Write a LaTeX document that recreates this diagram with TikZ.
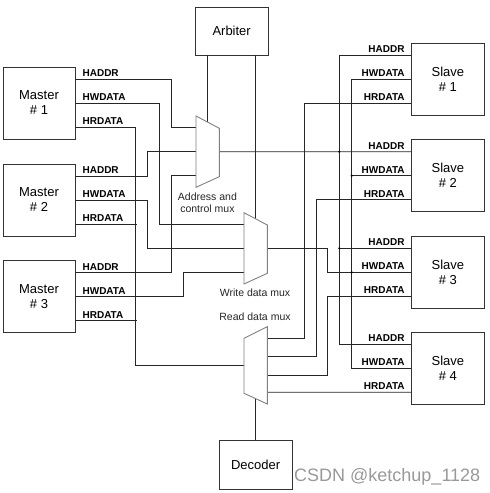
\documentclass[tikz,border=0pt]{standalone}
\usepackage{fontspec}
\setmainfont{Liberation Sans}
\usetikzlibrary{calc}
\begin{document}
\begin{tikzpicture}[x=1bp,y=-1bp,
  box/.style={draw=black!80, line width=0.8bp, minimum width=72bp, minimum height=72bp, align=center, inner sep=0pt, font=\fontsize{13bp}{15bp}\selectfont},
  wire/.style={draw=black!85, line width=0.8bp},
  mux/.style={draw=black!50, line width=0.9bp, fill=white},
  sig/.style={font=\fontsize{10bp}{12bp}\selectfont\bfseries, inner sep=0pt},
  mlab/.style={font=\fontsize{10.5bp}{11.6bp}\selectfont, align=center, inner sep=0pt, text=black!85},
  jdot/.style={circle, fill=black, inner sep=0pt, minimum size=2.4bp}]
\useasboundingbox (0,0) rectangle (490,493);

% boxes
\node[box] (m1) at (39,103) {Master\\\# 1};
\node[box] (m2) at (39,200) {Master\\\# 2};
\node[box] (m3) at (39,296.7) {Master\\\# 3};
\node[box, minimum width=72.3bp] (s1) at (447.85,79.3) {Slave\\\# 1};
\node[box, minimum width=72.3bp] (s2) at (447.85,175.7) {Slave\\\# 2};
\node[box, minimum width=72.3bp] (s3) at (447.85,272.3) {Slave\\\# 3};
\node[box, minimum width=72.3bp] (s4) at (447.85,368.3) {Slave\\\# 4};
\node[box, minimum width=73.3bp, minimum height=47.7bp] (arb) at (231.65,31.2) {Arbiter};
\node[box, minimum width=73.3bp, minimum height=48.3bp] (dec) at (255.65,464.8) {Decoder};

% signal pins on masters and slaves
\coordinate (m1a) at ([yshift=24bp]m1.east);
\coordinate (m1w) at (m1.east);
\coordinate (m1r) at ([yshift=-24bp]m1.east);
\coordinate (m2a) at ([yshift=24bp]m2.east);
\coordinate (m2w) at (m2.east);
\coordinate (m2r) at ([yshift=-24bp]m2.east);
\coordinate (m3a) at ([yshift=24bp]m3.east);
\coordinate (m3w) at (m3.east);
\coordinate (m3r) at ([yshift=-24bp]m3.east);
\coordinate (s1a) at ([yshift=24bp]s1.west);
\coordinate (s1w) at (s1.west);
\coordinate (s1r) at ([yshift=-24bp]s1.west);
\coordinate (s2a) at ([yshift=24bp]s2.west);
\coordinate (s2w) at (s2.west);
\coordinate (s2r) at ([yshift=-24bp]s2.west);
\coordinate (s3a) at ([yshift=24bp]s3.west);
\coordinate (s3w) at (s3.west);
\coordinate (s3r) at ([yshift=-24bp]s3.west);
\coordinate (s4a) at ([yshift=24bp]s4.west);
\coordinate (s4w) at (s4.west);
\coordinate (s4r) at ([yshift=-24bp]s4.west);

% signal labels
\foreach \b in {m1,m2,m3}{
  \node[sig, anchor=base west] at ([xshift=7bp,yshift=2.5bp]\b a) {HADDR};
  \node[sig, anchor=base west] at ([xshift=7bp,yshift=2.5bp]\b w) {HWDATA};
  \node[sig, anchor=base west] at ([xshift=7bp,yshift=2.5bp]\b r) {HRDATA};
}
\foreach \b in {s1,s2,s3,s4}{
  \node[sig, anchor=base east] at ([xshift=-6.5bp,yshift=2.5bp]\b a) {HADDR};
  \node[sig, anchor=base east] at ([xshift=-6.5bp,yshift=2.5bp]\b w) {HWDATA};
  \node[sig, anchor=base east] at ([xshift=-6.5bp,yshift=2.5bp]\b r) {HRDATA};
}

% mux geometry
\coordinate (A1) at (196,116);   \coordinate (A2) at (219.3,128.3);
\coordinate (A3) at (219.3,176.7); \coordinate (A4) at (196,187.3);
\coordinate (W1) at (244,212.7); \coordinate (W2) at (267.3,225);
\coordinate (W3) at (267.3,273.3); \coordinate (W4) at (244,284);
\coordinate (R1) at (244,338.3); \coordinate (R2) at (267.3,326.7);
\coordinate (R3) at (267.3,404); \coordinate (R4) at (244,393.3);
\coordinate (ai1) at (196,127.5);
\coordinate (ai2) at (196,151.7);
\coordinate (ai3) at (196,175.7);
\coordinate (ao) at (219.3,151.7);
\coordinate (wi1) at (244,224);
\coordinate (wi2) at (244,248.3);
\coordinate (wi3) at (244,272.7);
\coordinate (wo) at (267.3,248.3);
\coordinate (ro) at (244,365);
\coordinate (ri1) at (267.3,338.3);
\coordinate (ri2) at (267.3,356.7);
\coordinate (ri3) at (267.3,375);
\coordinate (ri4) at (267.3,392.3);
\coordinate (atop) at ($(A1)!0.5!(A2)$);
\coordinate (wtop) at ($(W1)!0.5!(W2)$);
\coordinate (rbot) at ($(R4)!0.5!(R3)$);

% vertical routing columns
\coordinate (xR) at (135,0);
\coordinate (xB) at (147,0);
\coordinate (xC) at (159.3,0);
\coordinate (xD) at (171.3,0);
\coordinate (xE) at (183.3,0);
\coordinate (xS1) at (304,0);
\coordinate (xS2) at (316,0);
\coordinate (xS3) at (327.8,0);
\coordinate (xHA) at (339.3,0);
\coordinate (xHW) at (351.7,0);

% master side wiring
\draw[wire] (m1a) -- (m1a -| xD) -- (ai1 -| xD) -- (ai1);
\draw[wire] (m2a) -- (m2a -| xB) -- (ai2 -| xB) -- (ai2);
\draw[wire] (m3a) -- (m3a -| xD) -- (ai3 -| xD) -- (ai3);
\draw[wire] (m1w) -- (m1w -| xC) -- (wi1 -| xC) -- (wi1);
\draw[wire] (m2w) -- (m2w -| xB) -- (wi2 -| xB) -- (wi2);
\draw[wire] (m3w) -- (m3w -| xE) -- (wi3 -| xE) -- (wi3);
\draw[wire] (m1r) -- (m1r -| xR) -- (ro -| xR) -- (ro);
\draw[wire] (m2r) -- ([xshift=1.5bp]m2r -| xR);
\draw[wire] (m3r) -- ([xshift=1.5bp]m3r -| xR);

% slave side wiring
\draw[wire] (ao) -- (s2a);
\draw[wire] (s1a) -- (s1a -| xHA) -- (s4a -| xHA) -- (s4a);
\draw[wire] (s3a -| xHA) -- (s3a);
\draw[wire] (s1w) -- (s1w -| xHW) -- (s4w -| xHW) -- (s4w);
\draw[wire] (s2w -| xHW) -- (s2w);
\draw[wire] (wo) -- (wo -| xS3) -- (s3w -| xS3) -- (s3w);
\draw[wire] (s1r) -- (s1r -| xS1) -- (ri1 -| xS1) -- (ri1);
\draw[wire] (s2r) -- (s2r -| xS2) -- (ri2 -| xS2) -- (ri2);
\draw[wire] (s3r) -- (s3r -| xS3) -- (ri3 -| xS3) -- (ri3);
\draw[wire] (s4r) -- (ri4);

% arbiter and decoder
\draw[wire] (arb.south -| atop) -- (atop);
\draw[wire] (arb.south -| wtop) -- (wtop);
\draw[wire] (dec.north -| rbot) -- (rbot);

% junction dots
\node[jdot] at (s2a -| xHA) {};
\node[jdot] at (s3a -| xHA) {};
\node[jdot] at (s2w -| xHW) {};
\node[jdot] at (s3w -| xHW) {};

% muxes
\draw[mux] (A1) -- (A2) -- (A3) -- (A4) -- cycle;
\draw[mux] (W1) -- (W2) -- (W3) -- (W4) -- cycle;
\draw[mux] (R1) -- (R2) -- (R3) -- (R4) -- cycle;

% mux labels
\node[mlab] (la) at (207.4,202.5) {Address and\\control mux};
\node[mlab] (lw) at (255,292.7) {Write data mux};
\node[mlab] (lr) at (255,316.9) {Read data mux};

% watermark
\node[anchor=base west, inner sep=0pt, text=black!40, font=\fontsize{18bp}{20bp}\selectfont] (wm) at (294,481.7) {CSDN @ketchup\_1128};
\end{tikzpicture}
\end{document}
